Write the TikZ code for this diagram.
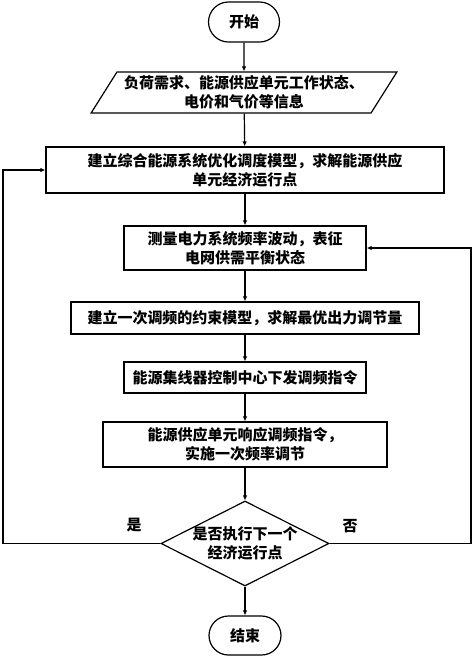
\documentclass[tikz,border=0pt]{standalone}
\usepackage{fontspec}
\newfontfamily\cjk{Noto Sans CJK SC}
\usetikzlibrary{shapes.geometric,shapes.misc,arrows.meta}

\begin{document}
\begin{tikzpicture}[x=1pt,y=-1pt,
    every node/.style={font=\cjk\bfseries\fontsize{15pt}{19pt}\selectfont, align=center, inner sep=0pt},
    proc/.style={draw, line width=1.2pt, rectangle},
    term/.style={draw, line width=1.2pt, rounded rectangle, minimum width=71pt, minimum height=40pt},
    io/.style={draw, line width=1.2pt, trapezium, trapezium left angle=54, trapezium right angle=126,
      trapezium stretches=true, minimum width=307pt, minimum height=41pt},
    judge/.style={draw, line width=1.2pt, diamond, minimum width=168pt, minimum height=85pt},
    flow/.style={line width=1.2pt, -{Latex[length=5pt,width=4.5pt]}}]
      \useasboundingbox (0,0) rectangle (474,657);

      % 节点定义
      \node[term] (start) at (244,22) {开始};
      \node[io] (info) at (244,92.5) {负荷需求、能源供应单元工作状态、\\电价和气价等信息};
      \node[proc, minimum width=398pt, minimum height=46pt] (model) at (245,170)
        {建立综合能源系统优化调度模型，求解能源供应\\单元经济运行点};
      \node[proc, minimum width=242pt, minimum height=44pt] (measure) at (245,248)
        {测量电力系统频率波动，表征\\电网供需平衡状态};
      \node[proc, minimum width=348pt, minimum height=32pt] (constr) at (245,318)
        {建立一次调频的约束模型，求解最优出力调节量};
      \node[proc, minimum width=242pt, minimum height=31pt] (issue) at (245,377.5)
        {能源集线器控制中心下发调频指令};
      \node[proc, minimum width=284pt, minimum height=45pt] (respond) at (245,444.5)
        {能源供应单元响应调频指令，\\实施一次频率调节};
      \node[judge] (dec) at (245,543.5) {};
      \node (dectext) at (dec.center) {是否执行下一个\\经济运行点};
      \node[term, minimum width=72pt, minimum height=39pt] (stop) at (245,635.5) {结束};

      \node (yes) at (134,525) {是};
      \node (no) at (350,526) {否};

      % 回路拐点
      \coordinate (yesturn) at (3,543.5);
      \coordinate (noturn) at (471,543.5);

      % 连线
      \draw[flow] (start) -- (info);
      \draw[flow] (info) -- (model);
      \draw[flow] (model) -- (measure);
      \draw[flow] (measure) -- (constr);
      \draw[flow] (constr) -- (issue);
      \draw[flow] (issue) -- (respond);
      \draw[flow] (respond) -- (dec);
      \draw[flow] (dec) -- (stop);
      \draw[flow] (dec.west) -- (yesturn) |- (model.west);
      \draw[flow] (dec.east) -- (noturn) |- (measure.east);
\end{tikzpicture}
\end{document}
